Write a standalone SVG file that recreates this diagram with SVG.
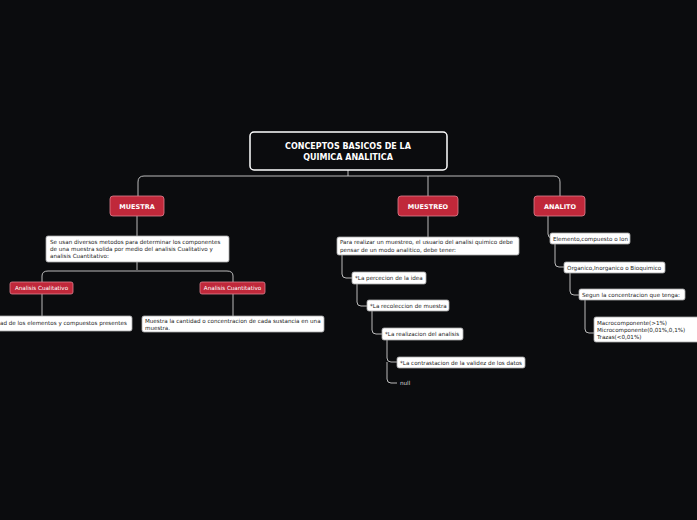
<svg xmlns="http://www.w3.org/2000/svg" width="697" height="520" viewBox="0 0 697 520">
<style>
text{font-family:"DejaVu Sans","Liberation Sans",sans-serif}
.w{fill:#fff;stroke:#aaa;stroke-width:0.8}
.r{fill:#c0283a;stroke:#e08090;stroke-width:0.8}
.t{font-size:5.6px;fill:#222}
.rt{font-size:5.6px;fill:#fff}
.h{font-size:8px;font-weight:bold;fill:#fff}
.c{fill:none;stroke:#cfcfcf;stroke-width:0.9}
</style>
<rect width="697" height="520" fill="#0b0c0e"/>
<g id="connectors">
<path class="c" d="M348 170V176M138 196V182Q138 176 144 176H554Q560 176 560 182V196M428 176V196"/>
<path class="c" d="M137 216V236M137 262V270M42 282V276Q42 271 48 271H227Q233 271 233 276V282M42 294V316M233 294V316"/>
<path class="c" d="M428 216V237M342 255V274Q342 278 346 278H352M357 284V302Q357 306 361 306H367M372 311V330Q372 334 376 334H382M387 340V358Q387 362 391 362H397M387 362V379Q387 383 391 383H397"/>
<path class="c" d="M548 216V234Q548 238 552 238H550M555 244V263Q555 267 559 267H564M570 273V291Q570 295 574 295H579M585 300V329Q585 333 589 333H594"/>
</g>
<g id="root"><rect x="250" y="132" width="197" height="38" rx="4" fill="#0b0c0e" stroke="#fff" stroke-width="1.5"/>
<text x="348" y="149" text-anchor="middle" class="h">CONCEPTOS BASICOS DE LA</text>
<text x="348" y="160" text-anchor="middle" class="h">QUIMICA ANALITICA</text></g>
<g id="muestra"><rect class="r" x="110" y="196" width="54" height="20" rx="3"/><text class="h" x="137" y="209" text-anchor="middle" style="font-size:6.5px">MUESTRA</text></g>
<g id="muestreo"><rect class="r" x="398" y="196" width="60" height="20" rx="3"/><text class="h" x="428" y="209" text-anchor="middle" style="font-size:6.5px">MUESTREO</text></g>
<g id="analito"><rect class="r" x="534" y="196" width="51" height="20" rx="3"/><text class="h" x="560" y="209" text-anchor="middle" style="font-size:6.5px">ANALITO</text></g>
<g id="m1"><rect class="w" x="46" y="236" width="183" height="26" rx="2"/>
<text class="t" x="50" y="244">Se usan diversos metodos para determinar los componentes</text>
<text class="t" x="50" y="251">de una muestra solida por medio del analisis Cualitativo y</text>
<text class="t" x="50" y="258">analisis Cuantitativo:</text></g>
<g id="cual"><rect class="r" x="10" y="282" width="63" height="12" rx="2"/><text class="rt" x="41.5" y="290" text-anchor="middle">Analisis Cualitativo</text></g>
<g id="cuan"><rect class="r" x="200" y="282" width="65" height="12" rx="2"/><text class="rt" x="232.5" y="290" text-anchor="middle">Analisis Cuantitativo</text></g>
<g id="cualdesc"><rect class="w" x="-5" y="316" width="137" height="15" rx="2"/><text class="t" x="0" y="325">ad de los elementos y compuestos presentes</text></g>
<g id="cuandesc"><rect class="w" x="142" y="316" width="182" height="16" rx="2"/><text class="t" x="145" y="323">Muestra la cantidad o concentracion de cada sustancia en una</text><text class="t" x="145" y="330">muestra.</text></g>
<g id="e1"><rect class="w" x="337" y="237" width="182" height="18" rx="2"/><text class="t" x="340" y="244">Para realizar un muestreo, el usuario del analisi quimico debe</text><text class="t" x="340" y="252">pensar de un modo analitico, debe tener:</text></g>
<g id="e2"><rect class="w" x="352" y="272" width="74" height="12" rx="2"/><text class="t" x="355" y="280">*La percecion de la idea</text></g>
<g id="e3"><rect class="w" x="367" y="300" width="82" height="11" rx="2"/><text class="t" x="370" y="307.5">*La recoleccion de muestra</text></g>
<g id="e4"><rect class="w" x="382" y="328" width="81" height="12" rx="2"/><text class="t" x="385" y="336">*La realizacion del analisis</text></g>
<g id="e5"><rect class="w" x="397" y="357" width="128" height="11" rx="2"/><text class="t" x="400" y="364.5">*La contrastacion de la validez de los datos</text></g>
<g id="e6"><text x="400" y="385" style="font-size:5.6px;fill:#ddd">null</text></g>
<g id="a1"><rect class="w" x="550" y="233" width="80" height="11" rx="2"/><text class="t" x="553" y="240.5">Elemento,compuesto o Ion</text></g>
<g id="a2"><rect class="w" x="564" y="262" width="101" height="11" rx="2"/><text class="t" x="567" y="269.5">Organico,Inorganico o Bioquimico</text></g>
<g id="a3"><rect class="w" x="579" y="289" width="106" height="11" rx="2"/><text class="t" x="582" y="296.5">Segun la concentracion que tenga:</text></g>
<g id="a4"><rect class="w" x="594" y="317" width="106" height="25" rx="2"/><text class="t" x="597" y="325">Macrocomponente(&gt;1%)</text><text class="t" x="597" y="332">Microcomponente(0,01%,0,1%)</text><text class="t" x="597" y="339">Trazas(&lt;0,01%)</text></g>
</svg>
